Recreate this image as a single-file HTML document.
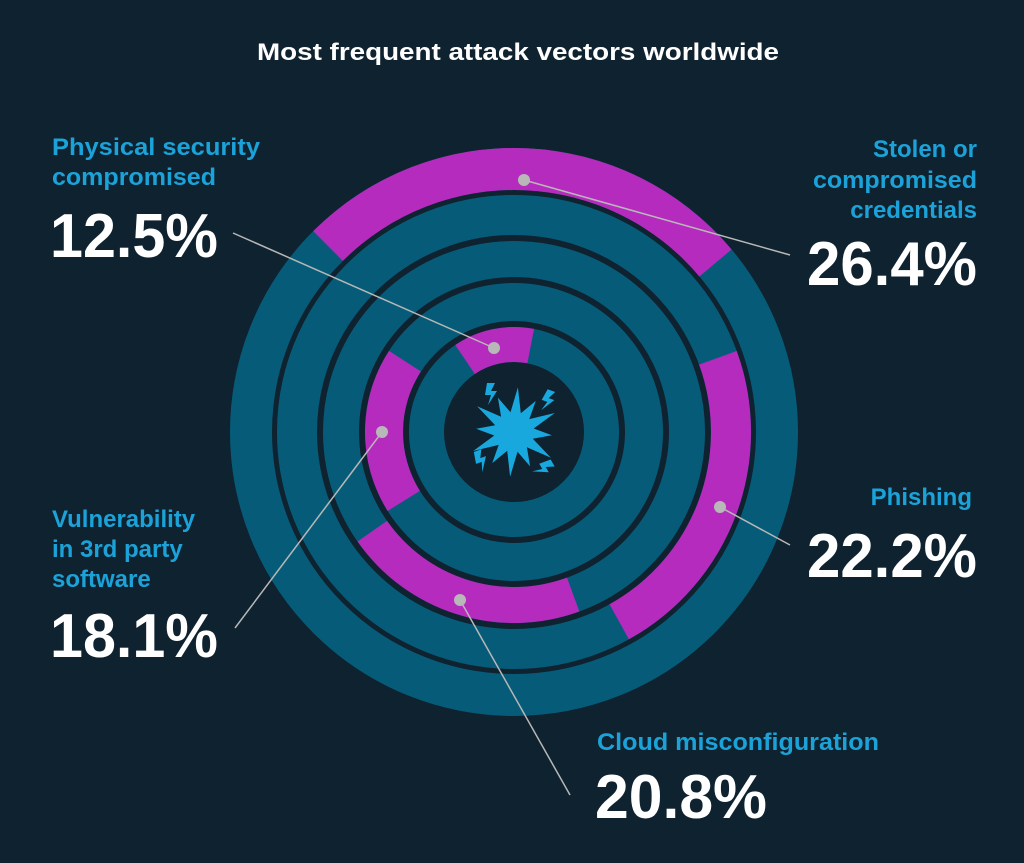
<!DOCTYPE html>
<html><head><meta charset="utf-8"><style>
html,body{margin:0;padding:0;background:#0f2230;}
svg{display:block;}
text{font-family:"Liberation Sans",sans-serif;font-weight:bold;}
.l{fill:#1ba3d9;font-size:24px;}
.n{fill:#ffffff;font-size:62px;}
</style></head><body>
<svg width="1024" height="863" viewBox="0 0 1024 863" xmlns="http://www.w3.org/2000/svg">
<rect width="1024" height="863" fill="#0f2230"/>
<text x="518" y="60" fill="#fff" font-size="24" text-anchor="middle" textLength="522" lengthAdjust="spacingAndGlyphs">Most frequent attack vectors worldwide</text>
<g id="rings"></g>
<script>
(function(){
var cx=514,cy=432,g=document.getElementById('rings'),ns='http://www.w3.org/2000/svg';
var rings=[[284,242,-45,50],[237,197,70,151],[191,155,160,235],[149,111,238,303],[105,70,-34,11]];
function pt(r,a){a=a*Math.PI/180;return [cx+r*Math.sin(a),cy-r*Math.cos(a)];}
function add(tag,attrs){var e=document.createElementNS(ns,tag);for(var k in attrs)e.setAttribute(k,attrs[k]);g.appendChild(e);return e;}
rings.forEach(function(R){
 var ro=R[0],ri=R[1],a0=R[2],a1=R[3];
 add('circle',{cx:cx,cy:cy,r:(ro+ri)/2,fill:'none',stroke:'#065c78','stroke-width':ro-ri});
 var p1=pt(ro,a0),p2=pt(ro,a1),p3=pt(ri,a1),p4=pt(ri,a0),lg=(a1-a0)>180?1:0;
 add('path',{d:'M'+p1+' A'+ro+' '+ro+' 0 '+lg+' 1 '+p2+' L'+p3+' A'+ri+' '+ri+' 0 '+lg+' 0 '+p4+'Z',fill:'#b52bbd'});
});
add('circle',{cx:cx,cy:cy,r:66,fill:'#0f2230'});
var s='';for(var i=0;i<24;i++){var r=i%2?20:(i%4?38:45);var p=pt(r,i*15+5);s+=p[0].toFixed(1)+','+p[1].toFixed(1)+' ';}
add('polygon',{points:s,fill:'#18a8dd'});
[[491,393,0],[548,400,20],[481,460,-20],[544,468,60]].forEach(function(b){
 add('polygon',{points:'-4,-10 4,-10 0,-2 6,-2 -3,12 0,2 -6,2',fill:'#18a8dd',transform:'translate('+b[0]+','+b[1]+') rotate('+b[2]+')'});
});
[[524,180,790,255],[494,348,233,233],[382,432,235,628],[460,600,570,795],[720,507,790,545]].forEach(function(l){
 add('line',{x1:l[0],y1:l[1],x2:l[2],y2:l[3],stroke:'#b8b8b8','stroke-width':1.5});
 add('circle',{cx:l[0],cy:l[1],r:6,fill:'#b8b8b8'});
});
})();
</script>
<text class="l" x="52" y="155" textLength="208" lengthAdjust="spacingAndGlyphs">Physical security</text>
<text class="l" x="52" y="185" textLength="164" lengthAdjust="spacingAndGlyphs">compromised</text>
<text class="n" x="50" y="257" textLength="168" lengthAdjust="spacingAndGlyphs">12.5%</text>
<text class="l" x="977" y="157" text-anchor="end">Stolen or</text>
<text class="l" x="977" y="188" text-anchor="end" textLength="164" lengthAdjust="spacingAndGlyphs">compromised</text>
<text class="l" x="977" y="218" text-anchor="end">credentials</text>
<text class="n" x="977" y="285" text-anchor="end" textLength="170" lengthAdjust="spacingAndGlyphs">26.4%</text>
<text class="l" x="972" y="505" text-anchor="end">Phishing</text>
<text class="n" x="977" y="577" text-anchor="end" textLength="170" lengthAdjust="spacingAndGlyphs">22.2%</text>
<text class="l" x="52" y="527">Vulnerability</text>
<text class="l" x="52" y="557">in 3rd party</text>
<text class="l" x="52" y="587">software</text>
<text class="n" x="50" y="657" textLength="168" lengthAdjust="spacingAndGlyphs">18.1%</text>
<text class="l" x="597" y="750" textLength="282" lengthAdjust="spacingAndGlyphs">Cloud misconfiguration</text>
<text class="n" x="595" y="818" textLength="172" lengthAdjust="spacingAndGlyphs">20.8%</text>
</svg>
</body></html>
